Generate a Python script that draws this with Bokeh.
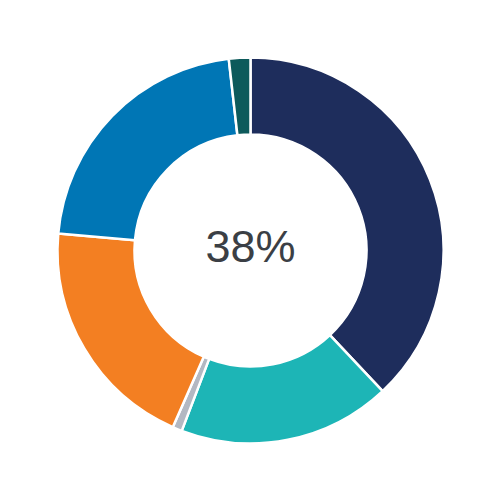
import math
from bokeh.plotting import figure
from bokeh.models import ColumnDataSource
from bokeh.core.properties import value
from bokeh.embed import file_html
from bokeh.resources import INLINE

categories = ["A", "B", "C", "D", "E", "F"]
shares = [38.0, 17.8, 0.8, 19.8, 21.8, 1.8]
colors = ["#1E2D5C", "#1DB5B6", "#B3B8C2", "#F37F22", "#0076B5", "#0D5A5B"]
center_label = "38%"

total = sum(shares)
starts, ends = [], []
cum = 0.0
for s in shares:
    a0 = math.pi / 2 - 2 * math.pi * cum / total
    cum += s
    a1 = math.pi / 2 - 2 * math.pi * cum / total
    starts.append(a0)
    ends.append(a1)

src = ColumnDataSource(dict(cat=categories, share=shares, start=starts, end=ends, color=colors,
                            x=[0] * len(shares), y=[0] * len(shares)))

W = 484
p = figure(width=W, height=W, x_range=(-250, W - 250), y_range=(250 - W, 250),
           output_backend="svg", toolbar_location=None, min_border=0)
p.axis.visible = False
p.grid.visible = False
p.outline_line_color = None
p.background_fill_color = "white"

p.annular_wedge(x="x", y="y", inner_radius=116, outer_radius=193,
                start_angle="start", end_angle="end", direction="clock",
                fill_color="color", line_color="white", line_width=2.5, source=src)

p.text(x=[0], y=[4], text=[center_label], text_align="center", text_baseline="middle",
       text_font=value("Liberation Sans"), text_font_size="45px", text_color="#3B3F45")

open("out.html", "w").write(file_html(p, INLINE))
